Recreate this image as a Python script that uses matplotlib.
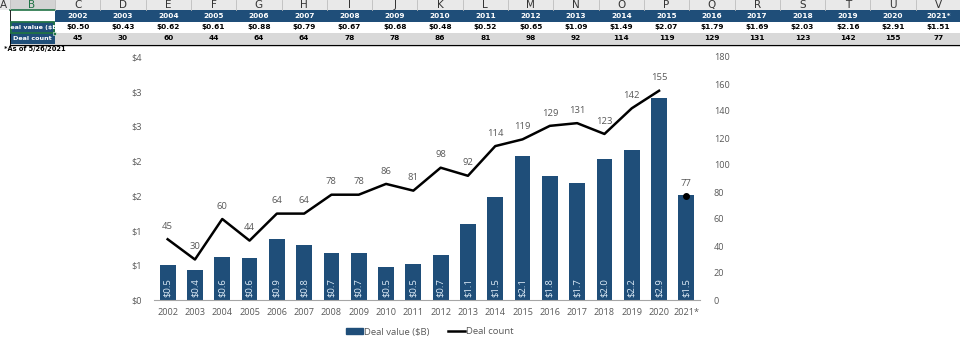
import math
import matplotlib
matplotlib.use("Agg")
from matplotlib import pyplot as plt
from matplotlib.patches import Rectangle
from matplotlib.lines import Line2D
from matplotlib.ticker import FuncFormatter

years = ['2002', '2003', '2004', '2005', '2006', '2007', '2008', '2009', '2010', '2011',
         '2012', '2013', '2014', '2015', '2016', '2017', '2018', '2019', '2020', '2021*']
deal_value = [0.50, 0.43, 0.62, 0.61, 0.88, 0.79, 0.67, 0.68, 0.48, 0.52,
              0.65, 1.09, 1.49, 2.07, 1.79, 1.69, 2.03, 2.16, 2.91, 1.51]
deal_count = [45, 30, 60, 44, 64, 64, 78, 78, 86, 81,
              98, 92, 114, 119, 129, 131, 123, 142, 155, 77]
col_letters = ['C', 'D', 'E', 'F', 'G', 'H', 'I', 'J', 'K', 'L',
               'M', 'N', 'O', 'P', 'Q', 'R', 'S', 'T', 'U', 'V']

BLUE = '#1F4E79'
GRAY = '#595959'
W, H = 960, 352

plt.rcParams['font.family'] = ['Open Sans', 'DejaVu Sans']
fig = plt.figure(figsize=(9.6, 3.52), dpi=100)


def fx(px):
    return px / W


def fy(py):
    return 1 - py / H


def cell(x0, y0, w, h, color):
    fig.patches.append(Rectangle((fx(x0), fy(y0 + h)), w / W, h / H, transform=fig.transFigure,
                                 facecolor=color, edgecolor='none', zorder=1))


# ---- spreadsheet strip at the top ----
col_w = 45.3
c0 = 55
tf = dict(fontsize=5.3, fontweight='bold', family='DejaVu Sans', ha='center', va='center')
lf = dict(fontsize=7.5, family='DejaVu Sans', ha='center', va='center')
# column letters row
cell(0, 0, W, 10, '#E9E9E9')
cell(10, 0, 45, 10, '#D3D3D3')
fig.add_artist(Line2D([fx(10), fx(55)], [fy(9.5), fy(9.5)], color='#217346', lw=1.2))
fig.text(fx(3), fy(5), 'A', color='#333333', **lf)
fig.text(fx(32), fy(5), 'B', color='#217346', **lf)
for i in range(len(years) + 1):
    xe = c0 + i * col_w
    fig.add_artist(Line2D([fx(xe), fx(xe)], [fy(0), fy(10)], color='#BDBDBD', lw=0.6))
fig.add_artist(Line2D([fx(10), fx(10)], [fy(0), fy(10)], color='#BDBDBD', lw=0.6))

# year / value / count rows
cell(c0, 10, W - c0, 11.5, BLUE)
cell(10, 22, W - 10, 11, 'white')
cell(10, 33, W - 10, 11, '#D9D9D9')
cell(10, 22, 45, 22, BLUE)
for i, yr in enumerate(years):
    xc = c0 + (i + 0.5) * col_w
    fig.text(fx(xc), fy(5), col_letters[i], color='#333333', **lf)
    fig.text(fx(xc), fy(16), yr, color='white', **tf)
    fig.text(fx(xc), fy(27.5), '$%.2f' % deal_value[i], color='black', **tf)
    fig.text(fx(xc), fy(38.5), str(deal_count[i]), color='black', **tf)
sf = dict(tf, fontsize=4.6)
fig.text(fx(32), fy(27.5), 'Deal value ($B)', color='white', **sf)
fig.text(fx(32), fy(38.5), 'Deal count', color='white', **sf)
# selection border and bottom border
fig.patches.append(Rectangle((fx(11), fy(33)), 43 / W, 11 / H, transform=fig.transFigure,
                             facecolor='none', edgecolor='#217346', linewidth=1.3, zorder=3))
fig.patches.append(Rectangle((fx(52.5), fy(35)), 3 / W, 3 / H, transform=fig.transFigure,
                             facecolor='#217346', edgecolor='white', linewidth=0.4, zorder=4))
fig.add_artist(Line2D([fx(10), fx(W)], [fy(44.5), fy(44.5)], color='black', lw=1.0))
fig.add_artist(Line2D([fx(10), fx(10)], [fy(10), fy(44.5)], color='black', lw=0.6))
fig.text(fx(4), fy(49), '*As of 5/26/2021', fontsize=4.8, fontweight='bold', family='DejaVu Sans',
         ha='left', va='center', color='black')

# ---- chart ----
ax = fig.add_axes([fx(154), fy(300), 546 / W, 243 / H])
x = list(range(len(years)))
ax.bar(x, deal_value, width=0.58, color=BLUE, zorder=2)
for xi, v in zip(x, deal_value):
    ax.text(xi, 0.04, '$%.1f' % (math.floor(v * 10 + 0.5) / 10), rotation=90, ha='center', va='bottom',
            fontsize=6.8, color='#DDEBF7', zorder=3)

ax.set_xlim(-0.5, len(years) - 0.5)
ax.set_ylim(0, 3.5)
ax.set_yticks([0, 0.5, 1, 1.5, 2, 2.5, 3, 3.5])
ax.yaxis.set_major_formatter(FuncFormatter(lambda v, p: '$%d' % math.floor(v + 0.5)))
ax.set_xticks(x)
ax.set_xticklabels(years)
for s in ['top', 'right', 'left']:
    ax.spines[s].set_visible(False)
ax.spines['bottom'].set_color('#A6A6A6')
ax.tick_params(axis='both', length=0, labelsize=6.6, colors=GRAY, pad=9)
ax.tick_params(axis='x', pad=6)

ax2 = ax.twinx()
ax2.set_ylim(0, 180)
ax2.set_yticks(range(0, 181, 20))
for s in ['top', 'right', 'left', 'bottom']:
    ax2.spines[s].set_visible(False)
ax2.tick_params(axis='y', length=0, labelsize=6.6, colors=GRAY, pad=10)
ax2.plot(x[:-1], deal_count[:-1], color='black', lw=1.8, zorder=4)
ax2.plot(x[-1], deal_count[-1], 'o', color='black', ms=4, zorder=4)
for xi, c in zip(x, deal_count):
    ax2.annotate(str(c), (xi, c), xytext=(0, 6), textcoords='offset points', ha='center',
                 va='bottom', fontsize=6.8, color=GRAY)

handles = [Rectangle((0, 0), 1, 1, color=BLUE), Line2D([], [], color='black', lw=1.8)]
fig.legend(handles, ['Deal value ($B)', 'Deal count'], loc='center', bbox_to_anchor=(fx(430), fy(332)),
           ncol=2, frameon=False, fontsize=6.8, labelcolor=GRAY, handlelength=1.8, handleheight=0.6,
           handletextpad=0.1, columnspacing=2.0)

fig.savefig('out.png', dpi=100)
